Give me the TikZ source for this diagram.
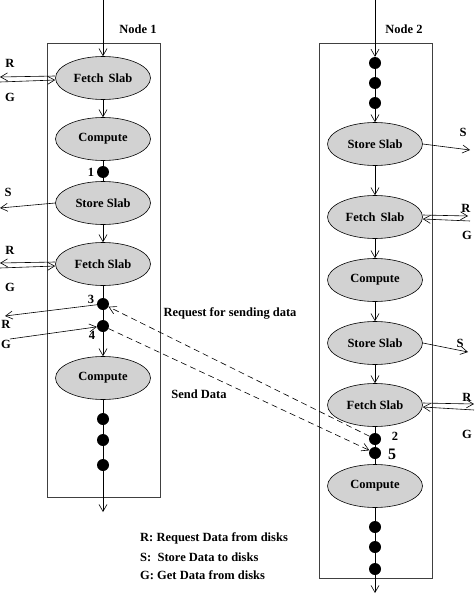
\documentclass[tikz,border=0pt]{standalone}
\usepackage{fontspec}
\setmainfont{Liberation Serif}
\usetikzlibrary{shapes.geometric,arrows.meta}
\begin{document}
\begin{tikzpicture}[x=1pt,y=-1pt,
  every node/.style={font=\bfseries\fontsize{12.5}{14}\selectfont},
  task/.style={ellipse,draw,fill=gray!35,minimum width=95pt,minimum height=43pt,inner sep=0pt,line width=0.6pt},
  dot/.style={circle,fill=black,minimum size=12pt,inner sep=0pt},
  arr/.style={-{Straight Barb[length=7pt,width=8pt]},line width=0.6pt},
  ln/.style={line width=0.6pt},
  frame/.style={draw=black!75,line width=0.8pt},
  lbl/.style={inner sep=1pt}]
\useasboundingbox (0,0) rectangle (474,594);
% frames
\draw[frame] (47,43) rectangle (160,497);
\draw[frame] (319,43) rectangle (432,578);
\node[lbl] (n1) at (138,29) {Node 1};
\node[lbl] (n2) at (404,29) {Node 2};
% ---------- Node 1 ----------
\coordinate (in1) at (103,0);
\node[task] (fa) at (103,78) {Fetch\, Slab};
\node[task] (ca) at (103,139) {Compute};
\node[dot] (d1) at (103,172) {};
\node[task] (sa) at (103,203) {Store Slab};
\node[task] (fb) at (103,264) {Fetch Slab};
\node[dot] (d3) at (103,304) {};
\node[dot] (d4) at (103,326) {};
\node[task] (cb) at (103,378) {Compute};
\node[dot] (e1) at (103,419) {};
\node[dot] (e2) at (103,440) {};
\node[dot] (e3) at (103,465) {};
\coordinate (out1) at (103,512);
\draw[arr] (in1) -- (fa);
\draw[arr] (fa) -- (ca);
\draw[ln] (ca) -- (d1);
\draw[ln] (d1) -- (sa);
\draw[arr] (sa) -- (fb);
\draw[ln] (fb) -- (d3);
\draw[ln] (d3) -- (d4);
\draw[arr] (d4) -- (cb);
\draw[ln] (cb) -- (e1);
\draw[ln] (e1) -- (e2);
\draw[ln] (e2) -- (e3);
\draw[arr] (e3) -- (out1);
\node[lbl] (l1) at (91,172) {1};
\node[lbl] (l3) at (91,299) {3};
\node[lbl] (l4) at (92,335) {4};
% left side I/O
\coordinate (ra1) at (0,77);
\coordinate (ga1) at (0,82);
\draw[arr] ([yshift=2pt]fa.west) -- (ra1);
\draw[arr] (ga1) -- ([yshift=-2pt]fa.west);
\node[lbl] (tr1) at (10,63) {R};
\node[lbl] (tg1) at (10,97) {G};
\coordinate (sa1) at (0,208);
\draw[arr] (sa.west) -- (sa1);
\node[lbl] (ts1) at (8,192) {S};
\coordinate (rb1) at (0,263);
\coordinate (gb1) at (0,268);
\draw[arr] ([yshift=2pt]fb.west) -- (rb1);
\draw[arr] (gb1) -- ([yshift=-2pt]fb.west);
\node[lbl] (tr2) at (10,250) {R};
\node[lbl] (tg2) at (10,287) {G};
\coordinate (rc1) at (5,316);
\coordinate (gc1) at (10,339);
\draw[arr] (d3) -- (rc1);
\draw[arr] (gc1) -- (d4);
\node[lbl] (tr3) at (6,324) {R};
\node[lbl] (tg3) at (6,344) {G};
% ---------- Node 2 ----------
\coordinate (in2) at (375,0);
\node[dot] (p1) at (375,63) {};
\node[dot] (p2) at (375,83) {};
\node[dot] (p3) at (375,103) {};
\node[task] (sc) at (375,144) {Store Slab};
\node[task] (fc) at (375,217) {Fetch\, Slab};
\node[task] (cc) at (375,280) {Compute};
\node[task] (sd) at (375,343) {Store Slab};
\node[task] (fd) at (375,405) {Fetch Slab};
\node[dot] (d2) at (375,439) {};
\node[dot] (d5) at (375,453) {};
\node[task] (cd) at (375,486) {Compute};
\node[dot] (q1) at (375,527) {};
\node[dot] (q2) at (375,547) {};
\node[dot] (q3) at (375,569) {};
\coordinate (out2) at (375,593);
\draw[arr] (in2) -- (p1);
\draw[ln] (p1) -- (p2);
\draw[ln] (p2) -- (p3);
\draw[arr] (p3) -- (sc);
\draw[arr] (sc) -- (fc);
\draw[arr] (fc) -- (cc);
\draw[arr] (cc) -- (sd);
\draw[arr] (sd) -- (fd);
\draw[ln] (fd) -- (d2);
\draw[ln] (d2) -- (d5);
\draw[ln] (d5) -- (cd);
\draw[ln] (cd) -- (q1);
\draw[ln] (q1) -- (q2);
\draw[ln] (q2) -- (q3);
\draw[arr] (q3) -- (out2);
\node[lbl] (l2) at (395,436) {2};
\node[lbl,font=\bfseries\fontsize{16}{18}\selectfont] (l5) at (392,454) {5};
% right side I/O
\coordinate (s2a) at (470,150);
\draw[arr] (sc.east) -- (s2a);
\node[lbl] (ts2) at (463,132) {S};
\coordinate (r2a) at (468,216);
\coordinate (g2a) at (470,221);
\draw[arr] ([yshift=2pt]fc.east) -- (r2a);
\draw[arr] (g2a) -- ([yshift=-2pt]fc.east);
\node[lbl] (tr4) at (466,208) {R};
\node[lbl] (tg4) at (467,235) {G};
\coordinate (s2b) at (468,352);
\draw[arr] (sd.east) -- (s2b);
\node[lbl] (ts3) at (460,343) {S};
\coordinate (r2b) at (474,404);
\coordinate (g2b) at (474,410);
\draw[arr] ([yshift=2pt]fd.east) -- (r2b);
\draw[arr] (g2b) -- ([yshift=-2pt]fd.east);
\node[lbl] (tr5) at (467,397) {R};
\node[lbl] (tg5) at (467,434) {G};
% ---------- communication ----------
\draw[arr,dashed,dash pattern=on 6pt off 4pt] (d2) -- (d3);
\draw[arr,dashed,dash pattern=on 6pt off 4pt] (d4) -- (d5);
\node[lbl] (req) at (230,313) {Request for sending data};
\node[lbl] (snd) at (199,394) {Send Data};
% legend
\node[lbl,anchor=west] (lg1) at (139,538) {R: Request Data from disks};
\node[lbl,anchor=west] (lg2) at (139,557) {S:\ \ Store Data to disks};
\node[lbl,anchor=west] (lg3) at (139,575) {G: Get Data from disks};
\end{tikzpicture}
\end{document}
